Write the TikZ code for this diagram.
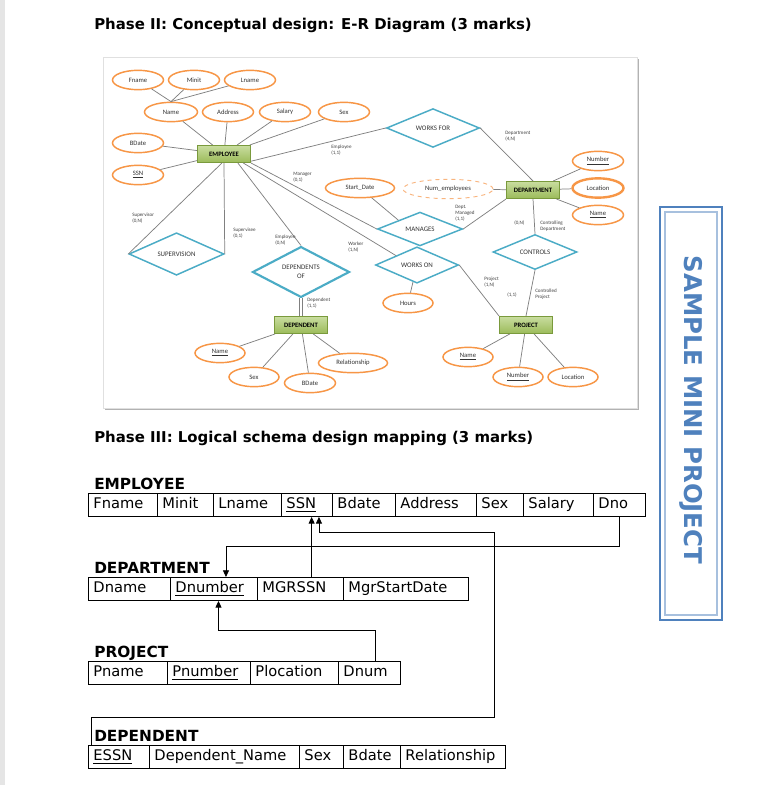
\documentclass[tikz,border=0pt]{standalone}
\usepackage{fontspec}
\setmainfont{DejaVu Sans}
\newfontfamily\erfont{Carlito}
\usetikzlibrary{shapes.geometric,arrows.meta}

\definecolor{erorange}{HTML}{F79646}
\definecolor{ercyan}{HTML}{4BACC6}
\definecolor{ergreen}{HTML}{9BBB59}
\definecolor{ergreenlight}{HTML}{C9DDA0}
\definecolor{ergreendark}{HTML}{7A9A3C}
\definecolor{erline}{HTML}{808080}
\definecolor{boxblue}{HTML}{4F81BD}
\definecolor{boxblue2}{HTML}{A7C0DE}

\tikzset{
  attr/.style={ellipse, draw=erorange, line width=1.1pt, fill=white, inner sep=0pt,
    minimum width=#1*0.75pt, minimum height=14.5pt, text=black!80,
    font=\erfont\fontsize{5}{6}\selectfont},
  attr/.default=51,
  entity/.style={rectangle, draw=ergreendark, line width=0.5pt, top color=ergreenlight,
    bottom color=ergreen, minimum width=40pt, minimum height=13pt, inner sep=0pt,
    font=\erfont\bfseries\fontsize{5}{6}\selectfont},
  rel/.style 2 args={diamond, draw=ercyan, line width=1.1pt, fill=white, inner sep=0pt,
    minimum width=#1*0.75pt, minimum height=#2*0.75pt, align=center, text=black!80,
    font=\erfont\fontsize{5.2}{6.4}\selectfont},
  role/.style={anchor=west, align=left, inner sep=0pt, text=black!75,
    font=\erfont\fontsize{3.8}{4.6}\selectfont},
  link/.style={draw=erline, line width=0.55pt},
  title/.style={anchor=base west, inner sep=0pt, font=\bfseries\fontsize{11.2}{13}\selectfont},
  relname/.style={anchor=base west, inner sep=0pt, font=\bfseries\fontsize{11.5}{13}\selectfont},
  cell/.style={draw, line width=0.7pt, anchor=north west, inner xsep=3.75pt, inner ysep=0pt,
    minimum height=17.25pt, text height=8.2pt, text depth=2.6pt, align=left,
    font=\fontsize{11}{13}\selectfont},
  fk/.style={draw, line width=0.6pt, -{Triangle[length=5pt,width=4.5pt]}},
}

\begin{document}
\begin{tikzpicture}[x=0.75pt,y=-0.75pt]
  \useasboundingbox (0,0) rectangle (760,785);
  \fill[white] (0,0) rectangle (760,785);
  \fill[black!10] (0,0) rectangle (5,785);

  % headings
  \node[title] (phasetwo) at (94,29) {Phase II: Conceptual design: E-R Diagram (3 marks)};
  \node[title] (phasethree) at (94,442) {Phase III: Logical schema design mapping (3 marks)};

  % E-R picture frame
  \fill[black!30] (105,59) rectangle (639,410);
  \draw[black!12, fill=white] (103,57) rectangle (637,408);

  % entities, attributes and relationships
  \node[entity] (emp) at (224,154) {EMPLOYEE};
  \node[attr] (fname) at (138,80) {Fname};
  \node[attr] (minit) at (194,80) {Minit};
  \node[attr] (lname) at (250,80) {Lname};
  \node[attr=53] (ename) at (171,112) {Name};
  \node[attr] (addr) at (228,112) {Address};
  \node[attr] (salary) at (285,112) {Salary};
  \node[attr] (esex) at (344,112) {Sex};
  \node[attr] (bdate) at (138,143) {BDate};
  \node[attr] (ssn) at (138,175) {\underline{SSN}};

  \node[rel={93}{27}] (worksfor) at (433,128) {WORKS FOR};
  \node[entity] (dept) at (533,190) {DEPARTMENT};
  \node[attr] (dnum) at (598,161) {\underline{Number}};
  \node[attr, line width=1.8pt] (dloc) at (598,188) {Location};
  \node[attr] (dnm) at (598,215) {\underline{Name}};
  \node[attr=90, draw=erorange!70, dashed, line width=0.7pt] (numemp) at (448,189) {Num\_employees};
  \node[attr=69] (startd) at (360,188) {Start\_Date};
  \node[rel={85}{25}] (manages) at (420,229) {MANAGES};
  \node[rel={83}{24}] (workson) at (417,265) {WORKS ON};
  \node[attr=50] (hours) at (408,303) {Hours};
  \node[rel={84}{23}] (controls) at (535,252) {CONTROLS};
  \node[entity] (proj) at (526,325) {PROJECT};
  \node[attr=50] (pnm) at (468,357) {\underline{Name}};
  \node[attr=50] (pnum) at (518,377) {\underline{Number}};
  \node[attr=50] (ploc) at (573,377) {Location};
  \node[rel={97}{44}, line width=1.6pt] (depof) at (301,272) {DEPENDENTS\\OF};
  \node[entity] (dep) at (301,325) {DEPENDENT};
  \node[attr=50] (depnm) at (220,353) {\underline{Name}};
  \node[attr=50] (depsex) at (254,377) {Sex};
  \node[attr] (depbd) at (310,383) {BDate};
  \node[attr=69] (deprel) at (353,363) {Relationship};
  \node[rel={95}{26}] (superv) at (176.5,254) {SUPERVISION};

  % attribute links
  \draw[link] (fname) -- (ename.north);
  \draw[link] (minit) -- (ename.north);
  \draw[link] (lname) -- (ename.north);
  \foreach \a in {ename,addr,salary,esex,bdate,ssn}
    \draw[link] (\a) -- (emp);
  \foreach \a in {dnum,dloc,dnm,numemp}
    \draw[link] (\a) -- (dept);
  \foreach \a in {pnm,pnum,ploc}
    \draw[link] (\a) -- (proj);
  \foreach \a in {depnm,depsex,depbd,deprel}
    \draw[link] (\a) -- (dep);
  \draw[link] (startd) -- (manages.north west);
  \draw[link] (workson) -- (hours);

  % relationship links
  \draw[link] (emp.-15) -- (worksfor.west);
  \draw[link] (worksfor.east) -- (dept.north);
  \draw[link] (emp.south east) -- (manages.west);
  \draw[link] (manages.east) -- (dept.south west);
  \draw[link] (emp.-25) -- (workson.north west);
  \draw[link] (workson.east) -- (proj.north west);
  \draw[link] (dept.south) -- (controls.north);
  \draw[link] (controls.south) -- (proj.north);
  \draw[link] (emp.-33) -- (depof.north);
  \draw[link, double, double distance=1.3pt] (depof.south) -- (dep.north);
  \draw[link] (emp.-103) -- (superv.west);
  \draw[link] (emp.south) -- (superv.east);

  % role names
  \node[role] (rempwf) at (331,150) {Employee\\(1,1)};
  \node[role] (rdeptwf) at (505,136) {Department\\(4,N)};
  \node[role] (rmgr) at (293,177) {Manager\\(0,1)};
  \node[role] (rdeptmgd) at (455,213) {Dept.\\Managed\\(1,1)};
  \node[role] (rworker) at (348,247) {Worker\\(1,N)};
  \node[role] (rproj) at (484,282) {Project\\(1,N)};
  \node[role] (rctrln) at (514,223) {(0,N)};
  \node[role] (rctrldept) at (540,226) {Controlling\\Department};
  \node[role] (rctrlone) at (507,295) {(1,1)};
  \node[role] (rctrlproj) at (535,294) {Controlled\\Project};
  \node[role] (rsupvr) at (132,218) {Supervisor\\(0,N)};
  \node[role] (rsupvee) at (233,233) {Supervisee\\(0,1)};
  \node[role] (rempdep) at (275,240) {Employee\\(0,N)};
  \node[role] (rdep) at (307,303) {Dependent\\(1,1)};

  % relation schemas
  \node[relname] (hemp) at (94,489) {EMPLOYEE};
  \foreach \nm/\xa/\xb/\txt in {fname/88/157/Fname, minit/157/213/Minit, lname/213/281/Lname,
      ssn/281/332/{\underline{SSN}}, bdate/332/395/Bdate, address/395/476/Address,
      sex/476/523/Sex, salary/523/593/Salary, dno/593/645/Dno} {
    \pgfmathsetmacro\tw{(\xb-\xa-10)*0.75}
    \node[cell, text width=\tw pt] (emp-\nm) at (\xa,493) {\txt};
  }
  \node[relname] (hdept) at (94,573) {DEPARTMENT};
  \foreach \nm/\xa/\xb/\txt in {dname/88/170/Dname, dnumber/170/257/{\underline{Dnumber}},
      mgrssn/257/343/MGRSSN, mgrstart/343/468/MgrStartDate} {
    \pgfmathsetmacro\tw{(\xb-\xa-10)*0.75}
    \node[cell, text width=\tw pt] (dept-\nm) at (\xa,577) {\txt};
  }
  \node[relname] (hproj) at (94,657) {PROJECT};
  \foreach \nm/\xa/\xb/\txt in {pname/88/167/Pname, pnumber/167/250/{\underline{Pnumber}},
      plocation/250/338/Plocation, dnum/338/400/Dnum} {
    \pgfmathsetmacro\tw{(\xb-\xa-10)*0.75}
    \node[cell, text width=\tw pt] (proj-\nm) at (\xa,661) {\txt};
  }
  \node[relname] (hdep) at (94,741) {DEPENDENT};
  \foreach \nm/\xa/\xb/\txt in {essn/88/149/{\underline{ESSN}}, depname/149/299/Dependent\_Name,
      sex/299/343/Sex, bdate/343/400/Bdate, relationship/400/505/Relationship} {
    \pgfmathsetmacro\tw{(\xb-\xa-10)*0.75}
    \node[cell, text width=\tw pt] (dep-\nm) at (\xa,745) {\txt};
  }

  % foreign keys
  \coordinate (ssnA) at ([xshift=3.5pt]emp-ssn.south);
  \coordinate (ssnB) at ([xshift=9pt]emp-ssn.south);
  \draw[fk] (emp-dno.south) -- ++(0,29) -| ([xshift=9pt]dept-dnumber.north);
  \draw[fk] (dept-mgrssn.north -| ssnA) -- (ssnA);
  \draw[fk] ([xshift=4.5pt]proj-dnum.north) -- ++(0,-31) -| ([xshift=3.4pt]dept-dnumber.south);
  \draw[fk] ([xshift=2.25pt]dep-essn.north west) -- ++(0,-28) -- ++(403,0) -- ++(0,-185) -| (ssnB);

  % side banner
  \draw[boxblue, line width=2pt] (660,207) rectangle (722,620);
  \draw[boxblue2, line width=0.8pt] (665,212) rectangle (717,615);
  \node[rotate=-90, text=boxblue, font=\bfseries\fontsize{18.3}{20}\selectfont] (sample) at (691,410) {SAMPLE MINI PROJECT};
\end{tikzpicture}
\end{document}
